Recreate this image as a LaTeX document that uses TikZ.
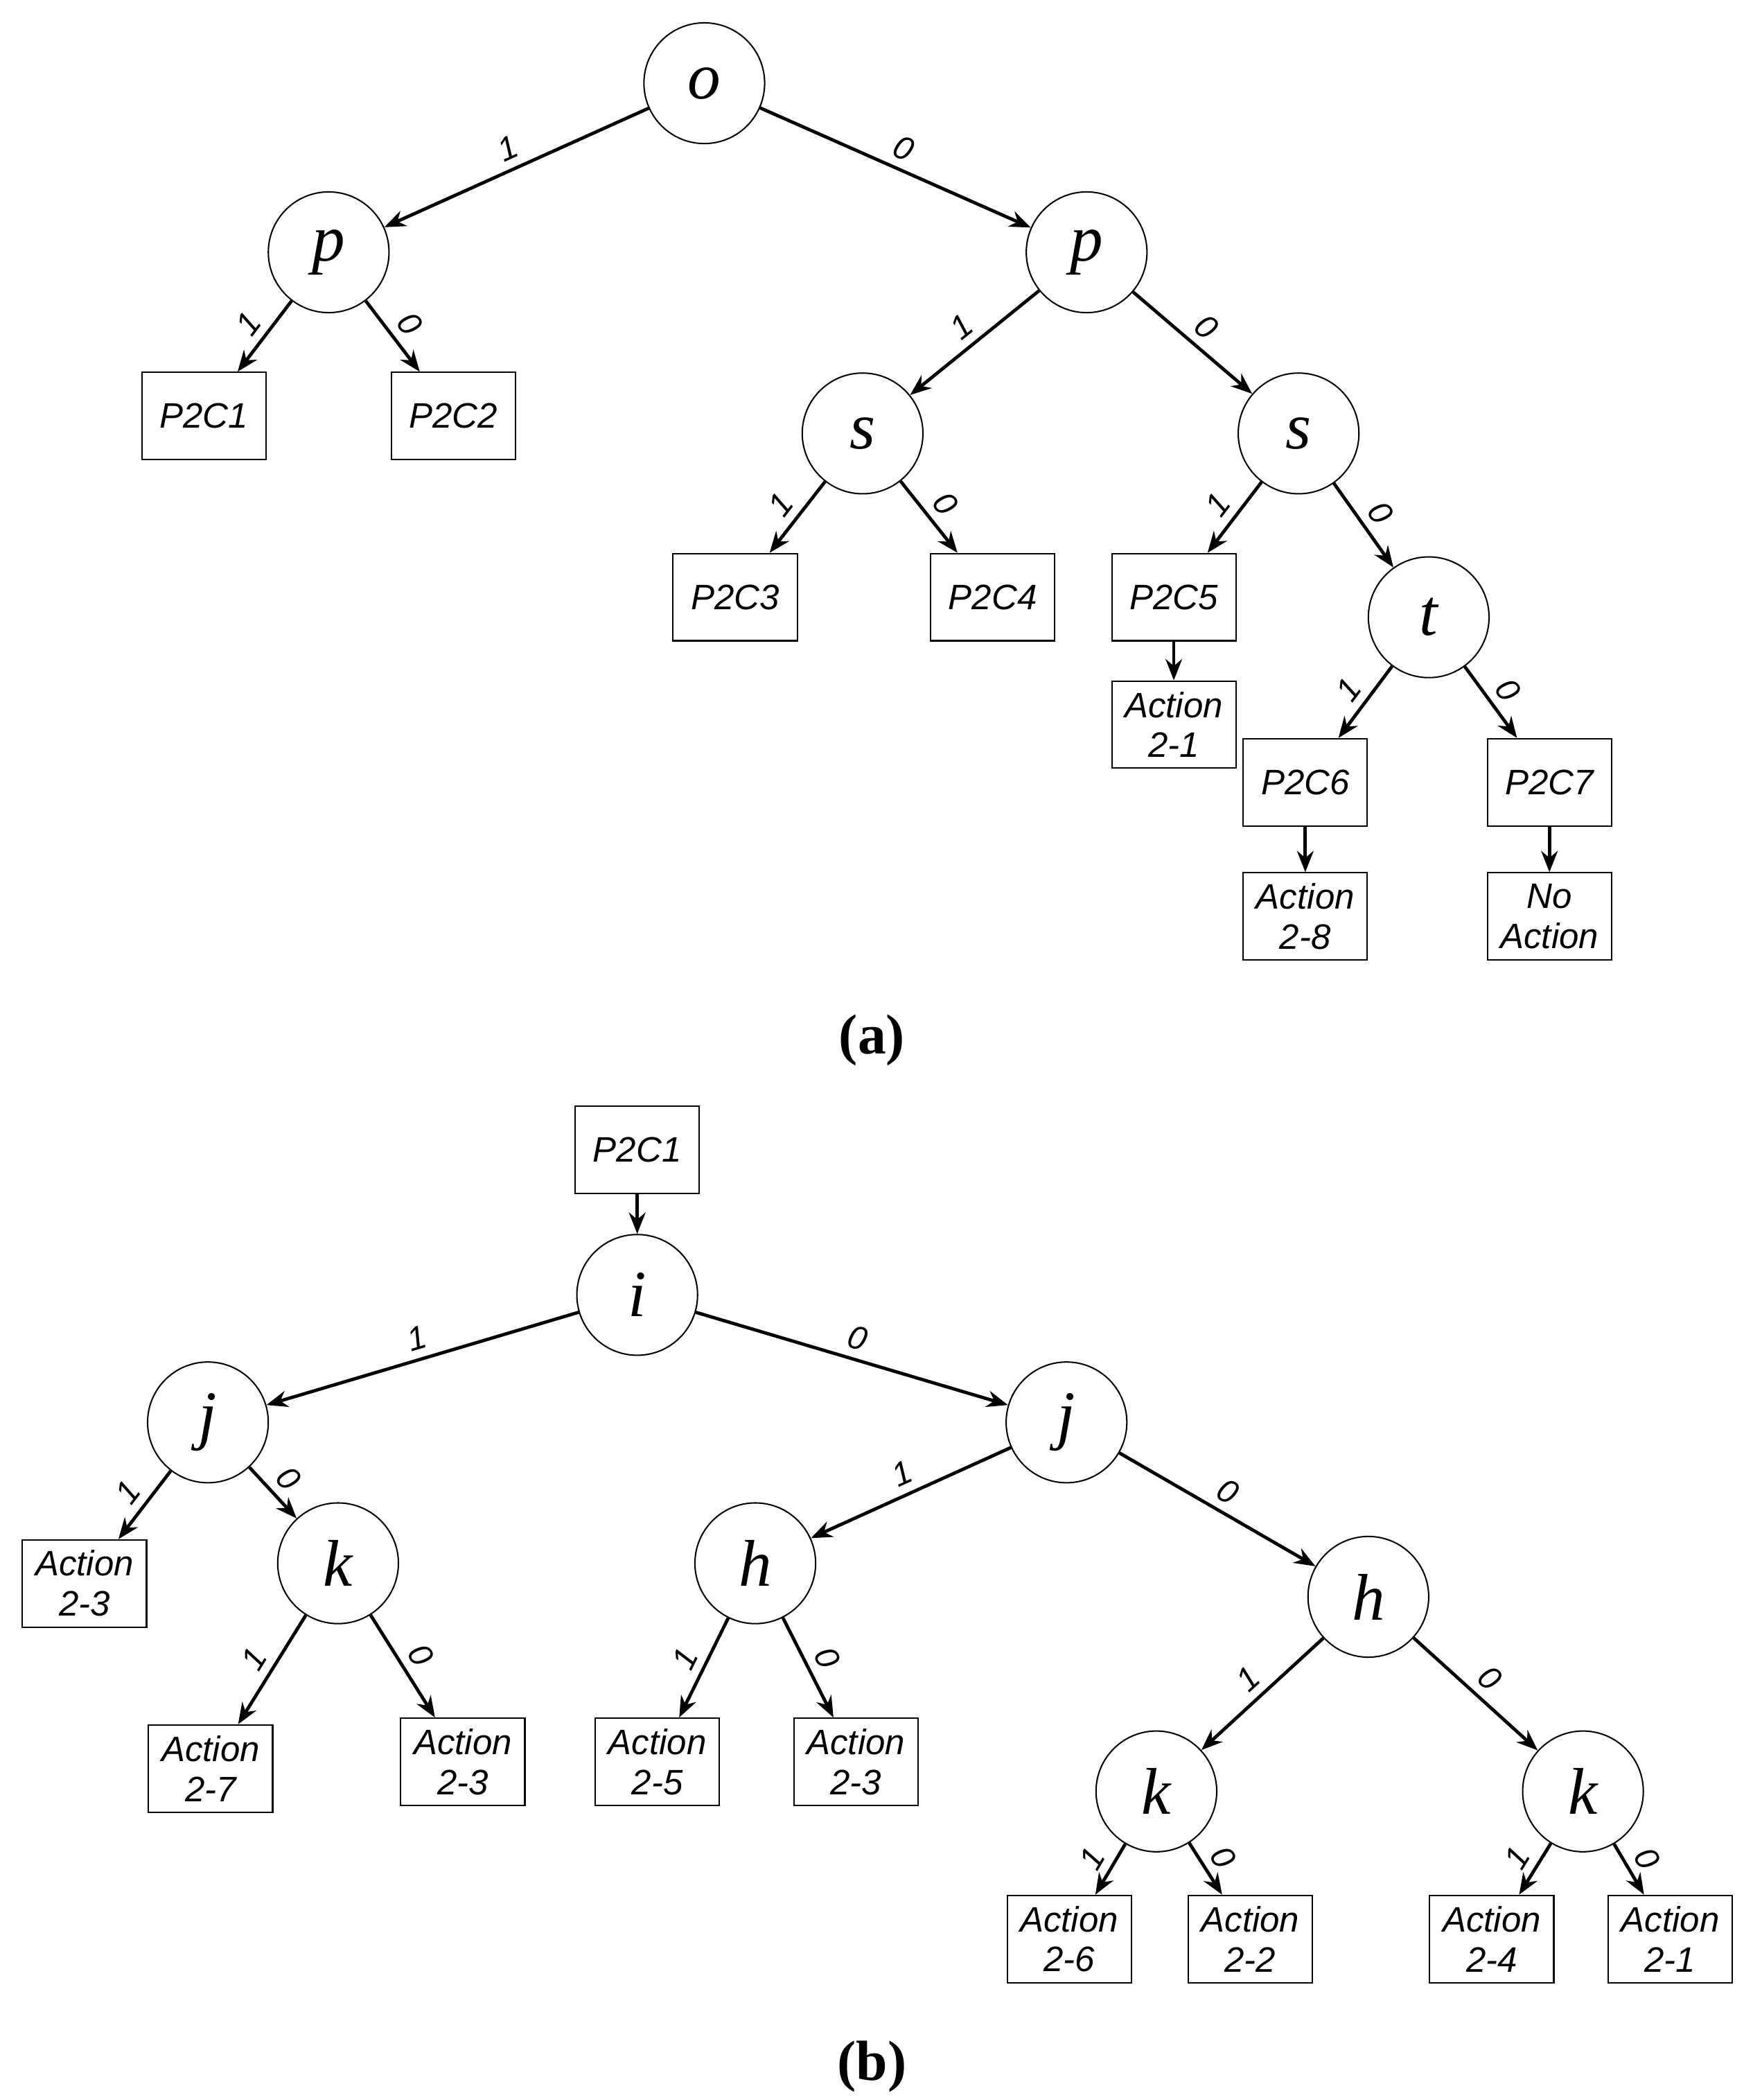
\documentclass[tikz,border=0pt]{standalone}
\usepackage{fontspec}
\setmainfont{Liberation Serif}
\newfontfamily\sansf{Liberation Sans}
\usetikzlibrary{arrows.meta}
\begin{document}
\begin{tikzpicture}[x=0.02cm,y=-0.02cm,
 cn/.style={circle,draw,line width=0.6pt,minimum size=1.8cm,inner sep=0pt,font=\fontsize{28}{28}\selectfont\itshape},
 bx/.style={draw,line width=0.6pt,minimum width=1.85cm,minimum height=1.3cm,inner sep=1pt,align=center,font=\sansf\fontsize{15}{17}\selectfont\itshape},
 arr/.style={line width=1.4pt,-{Stealth[length=9pt,width=7pt]}},
 lbl/.style={sloped,above,font=\sansf\fontsize{14}{14}\selectfont\itshape}]
\useasboundingbox (0,0) rectangle (1300,1565);
% (a)
\node[cn] (o) at (525,62) {o};
\node[cn] (pL) at (245,188) {p};
\node[cn] (pR) at (810,188) {p};
\node[bx] (a1) at (152,310) {P2C1};
\node[bx] (a2) at (338,310) {P2C2};
\node[cn] (sL) at (643,323) {s};
\node[cn] (sR) at (968,323) {s};
\node[bx] (a3) at (548,445) {P2C3};
\node[bx] (a4) at (740,445) {P2C4};
\node[bx] (a5) at (875,445) {P2C5};
\node[bx] (a21) at (875,540) {Action\\2-1};
\node[cn] (t) at (1065,460) {t};
\node[bx] (a6) at (973,583) {P2C6};
\node[bx] (a7) at (1155,583) {P2C7};
\node[bx] (a28) at (973,683) {Action\\2-8};
\node[bx] (na) at (1155,683) {No\\Action};
\node[font=\fontsize{24}{24}\selectfont\bfseries] (la) at (650,775) {(a)};
\draw[arr] (o) -- node[lbl]{1} (pL);
\draw[arr] (o) -- node[lbl]{0} (pR);
\draw[arr] (pL) -- node[lbl]{1} (a1);
\draw[arr] (pL) -- node[lbl]{0} (a2);
\draw[arr] (pR) -- node[lbl]{1} (sL);
\draw[arr] (pR) -- node[lbl]{0} (sR);
\draw[arr] (sL) -- node[lbl]{1} (a3);
\draw[arr] (sL) -- node[lbl]{0} (a4);
\draw[arr] (sR) -- node[lbl]{1} (a5);
\draw[arr] (sR) -- node[lbl]{0} (t);
\draw[arr] (t) -- node[lbl]{1} (a6);
\draw[arr] (t) -- node[lbl]{0} (a7);
\draw[arr] (a5) -- (a21);
\draw[arr] (a6) -- (a28);
\draw[arr] (a7) -- (na);
% (b)
\node[bx] (b0) at (475,857) {P2C1};
\node[cn] (i) at (475,965) {i};
\node[cn] (jL) at (155,1060) {j};
\node[cn] (jR) at (795,1060) {j};
\node[bx] (c1) at (63,1180) {Action\\2-3};
\node[cn] (kA) at (252,1165) {k};
\node[cn] (hL) at (563,1165) {h};
\node[cn] (hR) at (1020,1190) {h};
\node[bx] (c2) at (157,1318) {Action\\2-7};
\node[bx] (c3) at (345,1313) {Action\\2-3};
\node[bx] (c4) at (490,1313) {Action\\2-5};
\node[bx] (c5) at (638,1313) {Action\\2-3};
\node[cn] (kB) at (862,1335) {k};
\node[cn] (kC) at (1180,1335) {k};
\node[bx] (c6) at (797,1445) {Action\\2-6};
\node[bx] (c7) at (932,1445) {Action\\2-2};
\node[bx] (c8) at (1112,1445) {Action\\2-4};
\node[bx] (c9) at (1245,1445) {Action\\2-1};
\node[font=\fontsize{24}{24}\selectfont\bfseries] (lb) at (650,1540) {(b)};
\draw[arr] (b0) -- (i);
\draw[arr] (i) -- node[lbl]{1} (jL);
\draw[arr] (i) -- node[lbl]{0} (jR);
\draw[arr] (jL) -- node[lbl]{1} (c1);
\draw[arr] (jL) -- node[lbl]{0} (kA);
\draw[arr] (kA) -- node[lbl]{1} (c2);
\draw[arr] (kA) -- node[lbl]{0} (c3);
\draw[arr] (jR) -- node[lbl]{1} (hL);
\draw[arr] (jR) -- node[lbl]{0} (hR);
\draw[arr] (hL) -- node[lbl]{1} (c4);
\draw[arr] (hL) -- node[lbl]{0} (c5);
\draw[arr] (hR) -- node[lbl]{1} (kB);
\draw[arr] (hR) -- node[lbl]{0} (kC);
\draw[arr] (kB) -- node[lbl]{1} (c6);
\draw[arr] (kB) -- node[lbl]{0} (c7);
\draw[arr] (kC) -- node[lbl]{1} (c8);
\draw[arr] (kC) -- node[lbl]{0} (c9);
\end{tikzpicture}
\end{document}
